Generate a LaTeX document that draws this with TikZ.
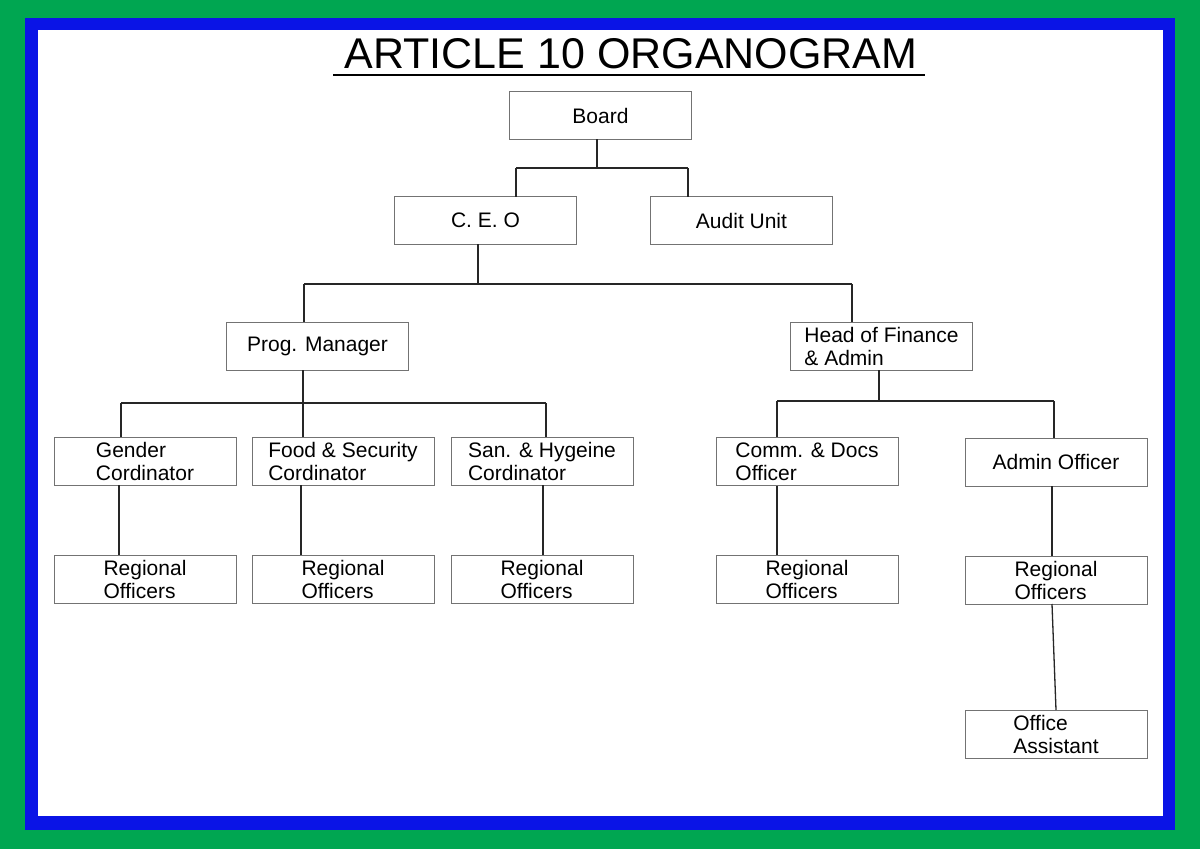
\documentclass[tikz,border=0pt]{standalone}
\usepackage{fontspec}
\setmainfont{Liberation Sans}
\definecolor{bggreen}{HTML}{00A651}
\definecolor{frameblue}{HTML}{0A14E6}
\begin{document}
\begin{tikzpicture}[x=1pt,y=-1pt,
  box/.style={draw=black!55,line width=1pt,minimum width=182pt,minimum height=48pt,inner sep=0pt,font=\fontsize{21}{23}\selectfont,align=left},
  ln/.style={line width=1.3pt,draw=black!85}]
\fill[bggreen] (0,0) rectangle (1200,849);
\fill[frameblue] (25,18) rectangle (1175,830);
\fill[white] (38,30) rectangle (1163,816);
\useasboundingbox (0,0) rectangle (1200,849);
\node (title) at (631,54) {\fontsize{43}{46}\selectfont ARTICLE 10 ORGANOGRAM};
\draw[line width=1.5pt] (333,75) -- (925,75);
\node[box] (board) at (600.5,115.5) {Board};
\node[box] (ceo) at (485.5,220.5) {C. E. O};
\node[box] (audit) at (741.5,220.5) {Audit Unit};
\node[box] (prog) at (317.5,346) {Prog. Manager};
\node[box] (head) at (881.5,346) {Head of Finance\\\& Admin};
\node[box] (gender) at (145,461) {Gender\\Cordinator};
\node[box] (food) at (343,461) {Food \& Security\\Cordinator};
\node[box] (san) at (542,461) {San. \& Hygeine\\Cordinator};
\node[box] (comm) at (807,461.5) {Comm. \& Docs\\Officer};
\node[box] (admin) at (1056,462) {Admin Officer};
\node[box] (ro1) at (145,579) {Regional\\Officers};
\node[box] (ro2) at (343,579) {Regional\\Officers};
\node[box] (ro3) at (542,579) {Regional\\Officers};
\node[box] (ro4) at (807,579) {Regional\\Officers};
\node[box] (ro5) at (1056,580) {Regional\\Officers};
\node[box] (office) at (1056,734) {Office\\Assistant};
\draw[ln] (597,139) -- (597,168) (516,168) -- (688,168);
\draw[ln] (516,168) -- (516,197) (688,168) -- (688,197);
\draw[ln] (478,244) -- (478,284) (304,284) -- (852,284);
\draw[ln] (304,284) -- (304,322) (852,284) -- (852,322);
\draw[ln] (303,370) -- (303,403) (121,403) -- (546,403);
\draw[ln] (121,403) -- (121,437) (303,403) -- (303,437) (546,403) -- (546,437);
\draw[ln] (879,370) -- (879,401) (777,401) -- (1054,401);
\draw[ln] (777,401) -- (777,437) (1054,401) -- (1054,438);
\draw[ln] (119,485) -- (119,555);
\draw[ln] (301,485) -- (301,555);
\draw[ln] (543,485) -- (543,555);
\draw[ln] (777,486) -- (777,555);
\draw[ln] (1052,486) -- (1052,556);
\draw[ln] (1052,604) -- (1056,710);
\end{tikzpicture}
\end{document}
